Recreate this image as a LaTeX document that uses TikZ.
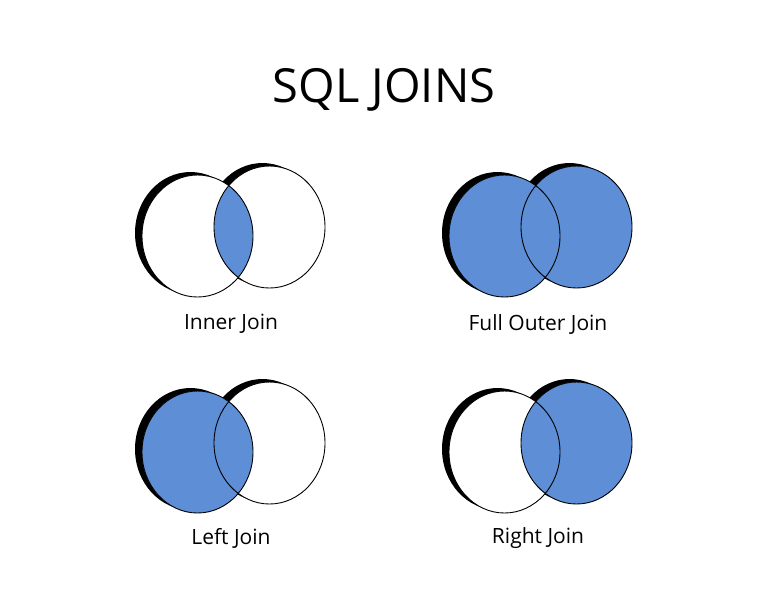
\documentclass[tikz,border=0pt]{standalone}
\usepackage{fontspec}
\setmainfont{Open Sans}
\definecolor{jblue}{RGB}{93,142,214}
\begin{document}
\begin{tikzpicture}[x=1pt,y=-1pt,
  lbl/.style={font=\fontsize{21}{24}\selectfont},
  outl/.style={draw=black,line width=0.9pt}]
\useasboundingbox[fill=white] (0,0) rectangle (768,614);
\node (title) at (384,90) {\fontsize{47}{52}\selectfont SQL JOINS};
\newcommand{\venn}[3]{%
 \begin{scope}[shift={(#1,#2)}]
  \fill[black] (190.5,233) ellipse [x radius=55.5,y radius=61];
  \fill[black] (262.5,224) ellipse [x radius=55.5,y radius=61];
  \fill[white] (197.5,236) ellipse [x radius=55.5,y radius=61];
  \fill[white] (269.5,227) ellipse [x radius=55.5,y radius=61];
  \ifcase#3
   \begin{scope}\clip (197.5,236) ellipse [x radius=55.5,y radius=61];
    \fill[jblue] (269.5,227) ellipse [x radius=55.5,y radius=61];\end{scope}
  \or
   \fill[jblue] (197.5,236) ellipse [x radius=55.5,y radius=61];
   \fill[jblue] (269.5,227) ellipse [x radius=55.5,y radius=61];
  \or
   \fill[jblue] (197.5,236) ellipse [x radius=55.5,y radius=61];
  \or
   \fill[jblue] (269.5,227) ellipse [x radius=55.5,y radius=61];
  \fi
  \draw[outl] (197.5,236) ellipse [x radius=55.5,y radius=61];
  \draw[outl] (269.5,227) ellipse [x radius=55.5,y radius=61];
 \end{scope}}
\venn{0}{0}{0}
\venn{307}{0}{1}
\venn{0}{216}{2}
\venn{307}{216}{3}
\node[lbl] (l1) at (231,324) {Inner Join};
\node[lbl] (l2) at (538,324) {Full Outer Join};
\node[lbl] (l3) at (231,538) {Left Join};
\node[lbl] (l4) at (538,538) {Right Join};
\end{tikzpicture}
\end{document}
